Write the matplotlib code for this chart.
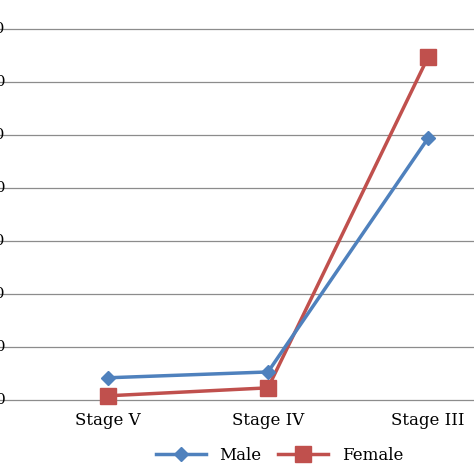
import matplotlib.pyplot as plt
from matplotlib.lines import Line2D

stages = ["Stage V", "Stage IV", "Stage III"]
male = [4.2, 5.3, 49.4]
female = [0.8, 2.3, 64.7]
yticks = [0, 10, 20, 30, 40, 50, 60, 70]

fig = plt.figure(figsize=(4.74, 4.74), dpi=100)
ax = fig.add_axes([0, 0, 1, 1])
x = range(len(stages))

for y in yticks:
    ax.axhline(y, color="#8c8c8c", lw=0.9, zorder=0)
    ax.text(-0.64, y, str(y), ha="right", va="center", fontsize=11, family="DejaVu Serif")

ax.plot(x, male, color="#4F81BD", lw=2.5, marker="D", ms=7, zorder=3)
ax.plot(x, female, color="#C0504D", lw=2.5, marker="s", ms=12, zorder=2)

for i, s in enumerate(stages):
    ax.text(i, -3.8, s, ha="center", va="center", fontsize=12, family="DejaVu Serif")

ax.set_xlim(-0.675, 2.2875)
ax.set_ylim(-13.96, 75.5)
ax.axis("off")

handles = [Line2D([], [], color="#4F81BD", lw=2.5, marker="D", ms=7),
           Line2D([], [], color="#C0504D", lw=2.5, marker="s", ms=12)]
fig.legend(handles, ["Male", "Female"], loc="center", bbox_to_anchor=(0.59, 0.04),
           ncol=2, frameon=False, prop={"family": "DejaVu Serif", "size": 12},
           handlelength=3, columnspacing=1.0)

fig.savefig("out.png", dpi=100)
